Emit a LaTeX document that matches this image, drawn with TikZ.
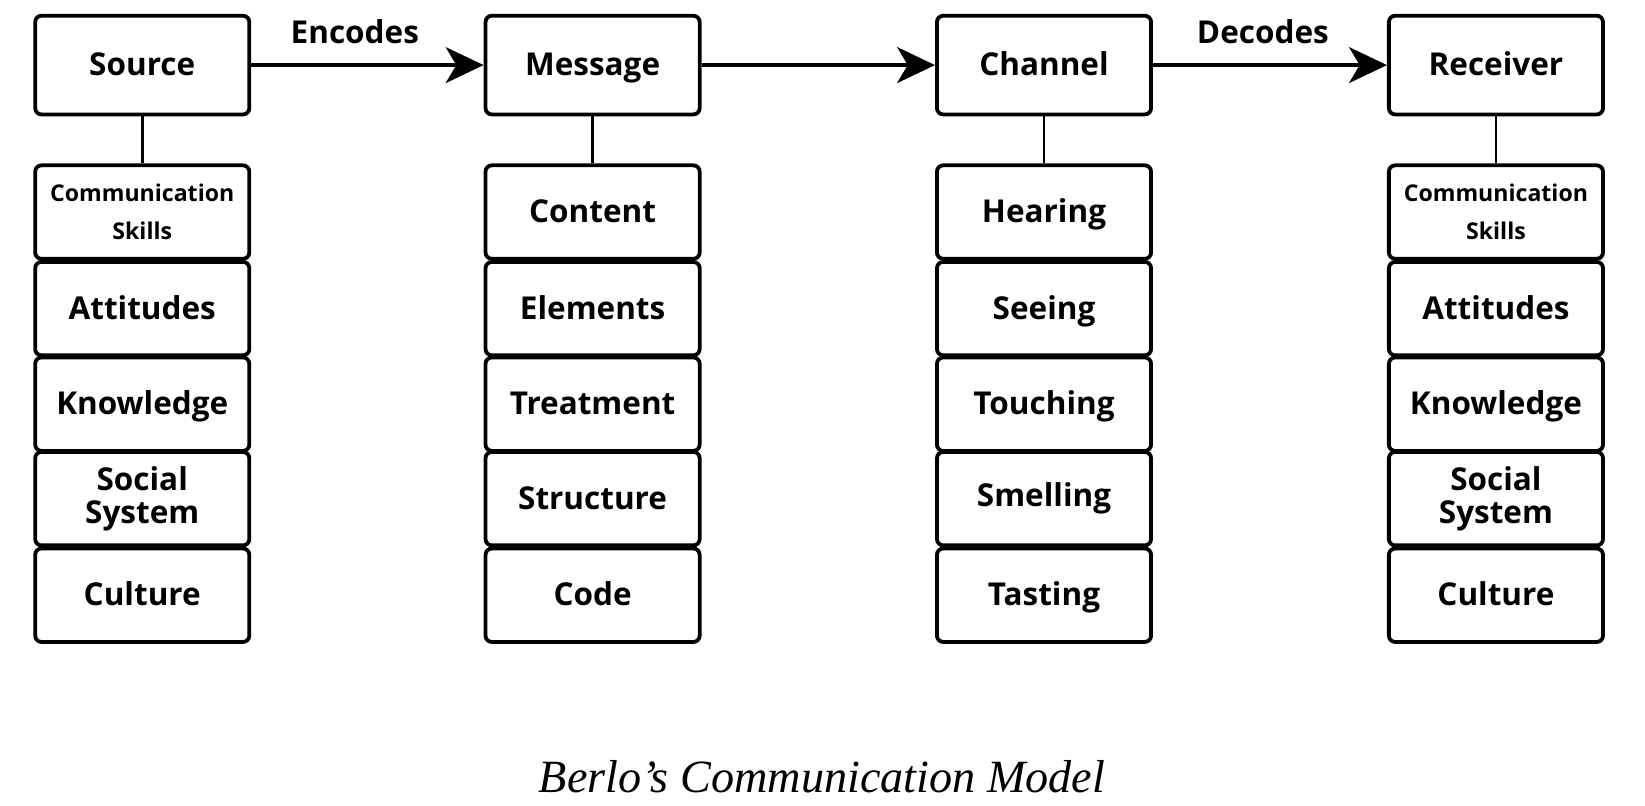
\documentclass[tikz,border=0pt]{standalone}
\usepackage{fontspec}
\setmainfont{Liberation Serif}
\newfontfamily\boxfont{Open Sans}
\usetikzlibrary{arrows.meta}
\begin{document}
\begin{tikzpicture}[x=0.5pt,y=-0.5pt,
  box/.style={draw,line width=1.8pt,rounded corners=3pt,minimum width=102pt,minimum height=47pt,inner sep=0pt,text height=11pt,text depth=1pt,font=\boxfont\bfseries\fontsize{15}{16}\selectfont,align=center},
  cell/.style={draw,line width=1.8pt,rounded corners=3pt,minimum width=102pt,minimum height=44.5pt,inner sep=0pt,font=\boxfont\bfseries\fontsize{15}{16}\selectfont,align=center},
  one/.style={text height=11pt,text depth=1pt},
  small/.style={font=\boxfont\bfseries\fontsize{11}{17}\selectfont,align=center},
  link/.style={line width=1.2pt},
  arr/.style={line width=2.2pt,-{Stealth[length=18pt,width=17pt,inset=5pt]}},
  lab/.style={font=\boxfont\bfseries\fontsize{15}{16}\selectfont}]
\useasboundingbox (0,0) rectangle (1567,767);
\foreach \n/\t/\x in {s/Source/135.5,m/Message/564.5,c/Channel/994.5,r/Receiver/1425}{
  \node[box] (\n) at (\x,62) {\t};
}
\foreach \n/\x/\a/\b/\c/\d/\e in {
  s/135.5/{}/Attitudes/Knowledge/{Social\\System}/Culture,
  m/564.5/Content/Elements/Treatment/Structure/Code,
  c/994.5/Hearing/Seeing/Touching/Smelling/Tasting,
  r/1425/{}/Attitudes/Knowledge/{Social\\System}/Culture}{
  \node[cell,one] (\n1) at (\x,202) {\a};
  \node[cell,one] (\n2) at (\x,294) {\b};
  \node[cell,one] (\n3) at (\x,385) {\c};
  \node[cell] (\n4) at (\x,475) {\d};
  \node[cell,one] (\n5) at (\x,567) {\e};
  \draw[link] (\n.south) -- (\n1.north);
}
\node[small] (st) at (s1) {Communication\\[1pt]Skills};
\node[small] (rt) at (r1) {Communication\\[1pt]Skills};
\draw[arr] (s.east) -- (m.west);
\draw[arr] (m.east) -- (c.west);
\draw[arr] (c.east) -- (r.west);
\node[lab] (enc) at (338,30) {Encodes};
\node[lab] (dec) at (1203,30) {Decodes};
\node[font=\itshape\fontsize{22}{24}\selectfont] (title) at (783,740) {Berlo’s Communication Model};
\end{tikzpicture}
\end{document}
